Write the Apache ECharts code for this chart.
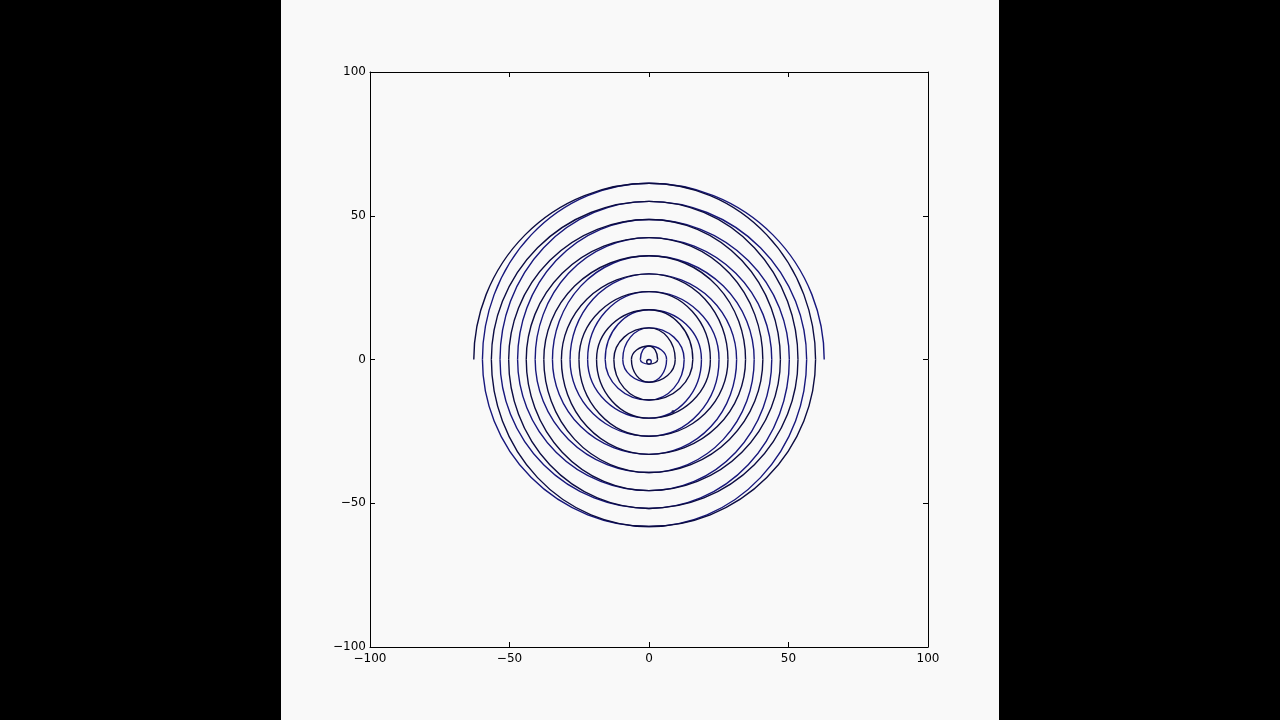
<!DOCTYPE html>
<html>
<head>
<meta charset="utf-8">
<script src="https://cdn.jsdelivr.net/npm/echarts@6/dist/echarts.min.js"></script>
<style>
  html, body { margin: 0; padding: 0; width: 1280px; height: 720px; background: #000; overflow: hidden; }
  #panel { position: absolute; left: 281px; top: 0; width: 718px; height: 720px; background: #f9f9f9; }
  #chart { width: 718px; height: 720px; }
</style>
</head>
<body>
<div id="panel"><div id="chart"></div></div>
<script>
// Axis ticks and labels
const tickValues = [-100, -50, 0, 50, 100];
const tickLabels = ['\u2212100', '\u221250', '0', '50', '100'];

// Ring crossings (inner -> outer)
const bottomY = [-1.6, -7.9, -14.1, -20.4, -26.7, -33.0, -39.3, -45.6, -51.8, -58.1];
const topY    = [4.7, 11.0, 17.3, 23.6, 29.8, 36.1, 42.4, 48.7, 55.0, 61.3];
const leftX   = [-3.1, -6.3, -9.4, -12.6, -15.7, -18.8, -22.0, -25.1, -28.3, -31.4,
                 -34.6, -37.7, -40.8, -44.0, -47.1, -50.3, -53.4, -56.5, -59.7, -62.8];
const rightX  = [3.1, 6.3, 9.4, 12.6, 15.7, 18.8, 22.0, 25.1, 28.3, 31.4,
                 34.6, 37.7, 40.8, 44.0, 47.1, 50.3, 53.4, 56.5, 59.7, 62.8];
// small dot near the lower right of the centre
const dotPoint = [8.6, -18.1];

const colorCW  = '#17177c';
const colorCCW = '#0c0c42';

// build ordered crossing points for each spiral
function spiralPoints(firstSide, secondSide) {
  const pts = [[0, 0]];
  for (let i = 0; i < topY.length; i++) {
    pts.push([0, bottomY[i]]);
    pts.push([firstSide[2 * i], 0]);
    pts.push([0, topY[i]]);
    pts.push([secondSide[2 * i + 1], 0]);
  }
  return pts;
}
function segments(pts, sweep) {
  const out = [];
  for (let i = 0; i < pts.length - 1; i++) {
    out.push([pts[i][0], pts[i][1], pts[i + 1][0], pts[i + 1][1], sweep]);
  }
  return out;
}
const cwSegments  = segments(spiralPoints(leftX, rightX), 1);
const ccwSegments = segments(spiralPoints(rightX, leftX), 0);

function makeRender(color) {
  return function (params, api) {
    const p0 = api.coord([api.value(0), api.value(1)]);
    const p1 = api.coord([api.value(2), api.value(3)]);
    const sweep = api.value(4);
    let rx = Math.abs(p1[0] - p0[0]);
    let ry = Math.abs(p1[1] - p0[1]);
    if (rx < 0.01 || ry < 0.01) {
      const d = Math.hypot(p1[0] - p0[0], p1[1] - p0[1]) / 2;
      rx = d; ry = d;
    }
    return {
      type: 'path',
      shape: { pathData: 'M' + p0[0] + ' ' + p0[1] + ' A' + rx + ' ' + ry + ' 0 0 ' + sweep + ' ' + p1[0] + ' ' + p1[1] },
      style: { fill: 'none', stroke: color, lineWidth: 1.4 }
    };
  };
}

const fontFamily = 'DejaVu Sans';
function fmt(v) {
  const i = tickValues.indexOf(v);
  return i >= 0 ? tickLabels[i] : '';
}
function axis(kind, position, showLabels) {
  return {
    type: 'value', position: position, min: -100, max: 100, interval: 50,
    axisLine: { show: true, onZero: false, lineStyle: { color: '#000', width: 1 } },
    axisTick: { show: true, inside: true, length: 5, lineStyle: { color: '#000', width: 1 } },
    axisLabel: { show: showLabels, formatter: fmt, color: '#000', fontSize: 12, fontFamily: fontFamily,
                 margin: kind === 'x' ? 6 : 4, showMinLabel: true, showMaxLabel: true },
    splitLine: { show: false }
  };
}

const chart = echarts.init(document.getElementById('chart'), null, { renderer: 'canvas' });
chart.setOption({
  animation: false,
  backgroundColor: '#f9f9f9',
  grid: { left: 89, top: 72, width: 558, height: 575, show: false },
  xAxis: [axis('x', 'bottom', true), axis('x', 'top', false)],
  yAxis: [axis('y', 'left', true), axis('y', 'right', false)],
  series: [
    { type: 'custom', coordinateSystem: 'cartesian2d', xAxisIndex: 0, yAxisIndex: 0,
      renderItem: makeRender(colorCW), data: cwSegments, encode: { x: [0, 2], y: [1, 3] }, silent: true },
    { type: 'custom', coordinateSystem: 'cartesian2d', xAxisIndex: 0, yAxisIndex: 0,
      renderItem: makeRender(colorCCW), data: ccwSegments, encode: { x: [0, 2], y: [1, 3] }, silent: true },
    { type: 'scatter', xAxisIndex: 0, yAxisIndex: 0, data: [dotPoint], symbolSize: 3,
      itemStyle: { color: colorCCW }, silent: true }
  ]
});
</script>
</body>
</html>
